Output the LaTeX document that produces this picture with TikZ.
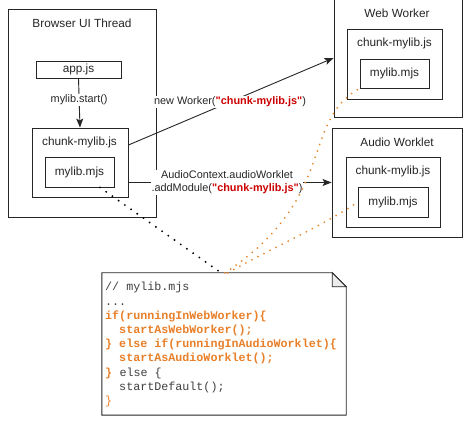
\documentclass[tikz,border=0pt]{standalone}
\usepackage{fontspec}
\setmainfont{Liberation Sans}
\newfontfamily\codefont{Liberation Mono}
\usetikzlibrary{arrows.meta,calc}
\definecolor{ink}{HTML}{262626}
\definecolor{codeor}{HTML}{E8802A}
\definecolor{codegray}{HTML}{404040}
\definecolor{dotor}{HTML}{E88A30}
\definecolor{lblred}{HTML}{CC0000}
\newcommand\redq[1]{\textcolor{lblred}{\bfseries\textquotedbl#1\textquotedbl}}
\begin{document}
\begin{tikzpicture}[x=1pt,y=-1pt,
  font=\fontsize{11.8}{13.4}\selectfont,
  box/.style={draw=ink, line width=0.9pt, inner sep=0pt},
  txt/.style={inner sep=0pt, text=ink},
  lbl/.style={fill=white, inner sep=1pt, text=ink, align=center, font=\fontsize{10.9}{13}\selectfont},
  conn/.style={draw=ink, line width=0.9pt},
  arr/.style={conn, -{Stealth[length=9pt,width=7pt,inset=2pt]}},
  blackdots/.style={draw=black, line width=2.1pt, line cap=round, dash pattern=on 0pt off 7.6pt},
  oradots/.style={draw=dotor, line width=2pt, line cap=round, dash pattern=on 0pt off 6.8pt},
  codeline/.style={inner sep=0pt, anchor=base west, font=\codefont\fontsize{11.7}{14}\selectfont},
  cor/.style={codeline, text=codeor, font=\codefont\bfseries\fontsize{11.7}{14}\selectfont},
  cgr/.style={codeline, text=codegray}
]
\fill[white] (0,0) rectangle (474,427);
\useasboundingbox (0,0) rectangle (474,427);

% Browser UI Thread
\node[box, minimum width=148pt, minimum height=208pt] (bui) at (82,113) {};
\node[txt] (buit) at (82,23) {Browser UI Thread};
\node[box, minimum width=85pt, minimum height=17pt] (app) at (78.5,69.5) {};
\node[txt] (appt) at (app.center) {app.js};
\node[box, minimum width=96pt, minimum height=69pt] (ch) at (80,162.5) {};
\node[txt] (cht) at (79.5,142) {chunk-mylib.js};
\node[box, minimum width=69pt, minimum height=30pt] (ml) at (79.5,172) {};
\node[txt] (mlt) at (ml.center) {mylib.mjs};

% Web Worker
\node[box, minimum width=128pt, minimum height=118pt] (ww) at (398,58) {};
\node[txt] (wwt) at (397,13) {Web Worker};
\node[box, minimum width=95pt, minimum height=70pt] (wwc) at (394.5,64) {};
\node[txt] (wwct) at (394.5,43) {chunk-mylib.js};
\node[box, minimum width=69pt, minimum height=29pt] (wwm) at (394.5,73.5) {};
\node[txt] (wwmt) at (wwm.center) {mylib.mjs};

% Audio Worklet
\node[box, minimum width=130pt, minimum height=109pt] (aw) at (397,182.5) {};
\node[txt] (awt) at (397,142) {Audio Worklet};
\node[box, minimum width=94pt, minimum height=70pt] (awc) at (393,192) {};
\node[txt] (awct) at (393,171) {chunk-mylib.js};
\node[box, minimum width=70pt, minimum height=30pt] (awm) at (393,202) {};
\node[txt] (awmt) at (awm.center) {mylib.mjs};

% Note
\node[inner sep=0pt, minimum width=244pt, minimum height=142pt] (note) at (224,344) {};
\draw[box, fill=white] (note.north west) -- ($(note.north east)+(-14,0)$) -- ($(note.north east)+(0,14)$) -- (note.south east) -- (note.south west) -- cycle;
\draw[box, fill=black!8] ($(note.north east)+(-14,0)$) -- ($(note.north east)+(-14,14)$) -- ($(note.north east)+(0,14)$) -- cycle;

\node[cgr] (c1) at (105,291) {// mylib.mjs};
\node[cgr] (c2) at (105,305.2) {...};
\node[cor] (c3) at (105,319.4) {if(runningInWebWorker)\{};
\node[cor] (c4) at (105,333.6) {\ \ startAsWebWorker();};
\node[cor] (c5) at (105,347.8) {\} else if(runningInAudioWorklet)\{};
\node[cor] (c6) at (105,362) {\ \ startAsAudioWorklet();};
\node[cor] (c7) at (105,376.2) {\}};
\node[cgr, anchor=base west] (c7b) at (c7.base east) {\ else \{};
\node[cgr] (c8) at (105,390.4) {\ \ startDefault();};
\node[codeline, text=codeor] (c9) at (105,404.6) {\}};

% connectors
\draw[arr] (app.south) -- node[lbl, pos=0.44] (lstart) {mylib.start()} (ch.north);
\draw[arr] ([yshift=17.5pt]ch.east) -- node[lbl, pos=0.495] (lnew) {new Worker(\redq{chunk-mylib.js})} (ww.west);
\draw[arr] (ch.east |- aw.west) -- node[lbl, pos=0.485] (lmod) {AudioContext.audioWorklet\\.addModule(\redq{chunk-mylib.js})} (aw.west);

\draw[blackdots] ([xshift=20.5pt]ml.south) -- ([xshift=-3pt]note.north);
\draw[oradots] ([xshift=1pt]note.north) .. controls (338,198) and (300,122) .. (wwm.south west);
\draw[oradots] ([xshift=4pt]note.north) .. controls (272,248) and (330,222) .. (awm.west);
\end{tikzpicture}
\end{document}
